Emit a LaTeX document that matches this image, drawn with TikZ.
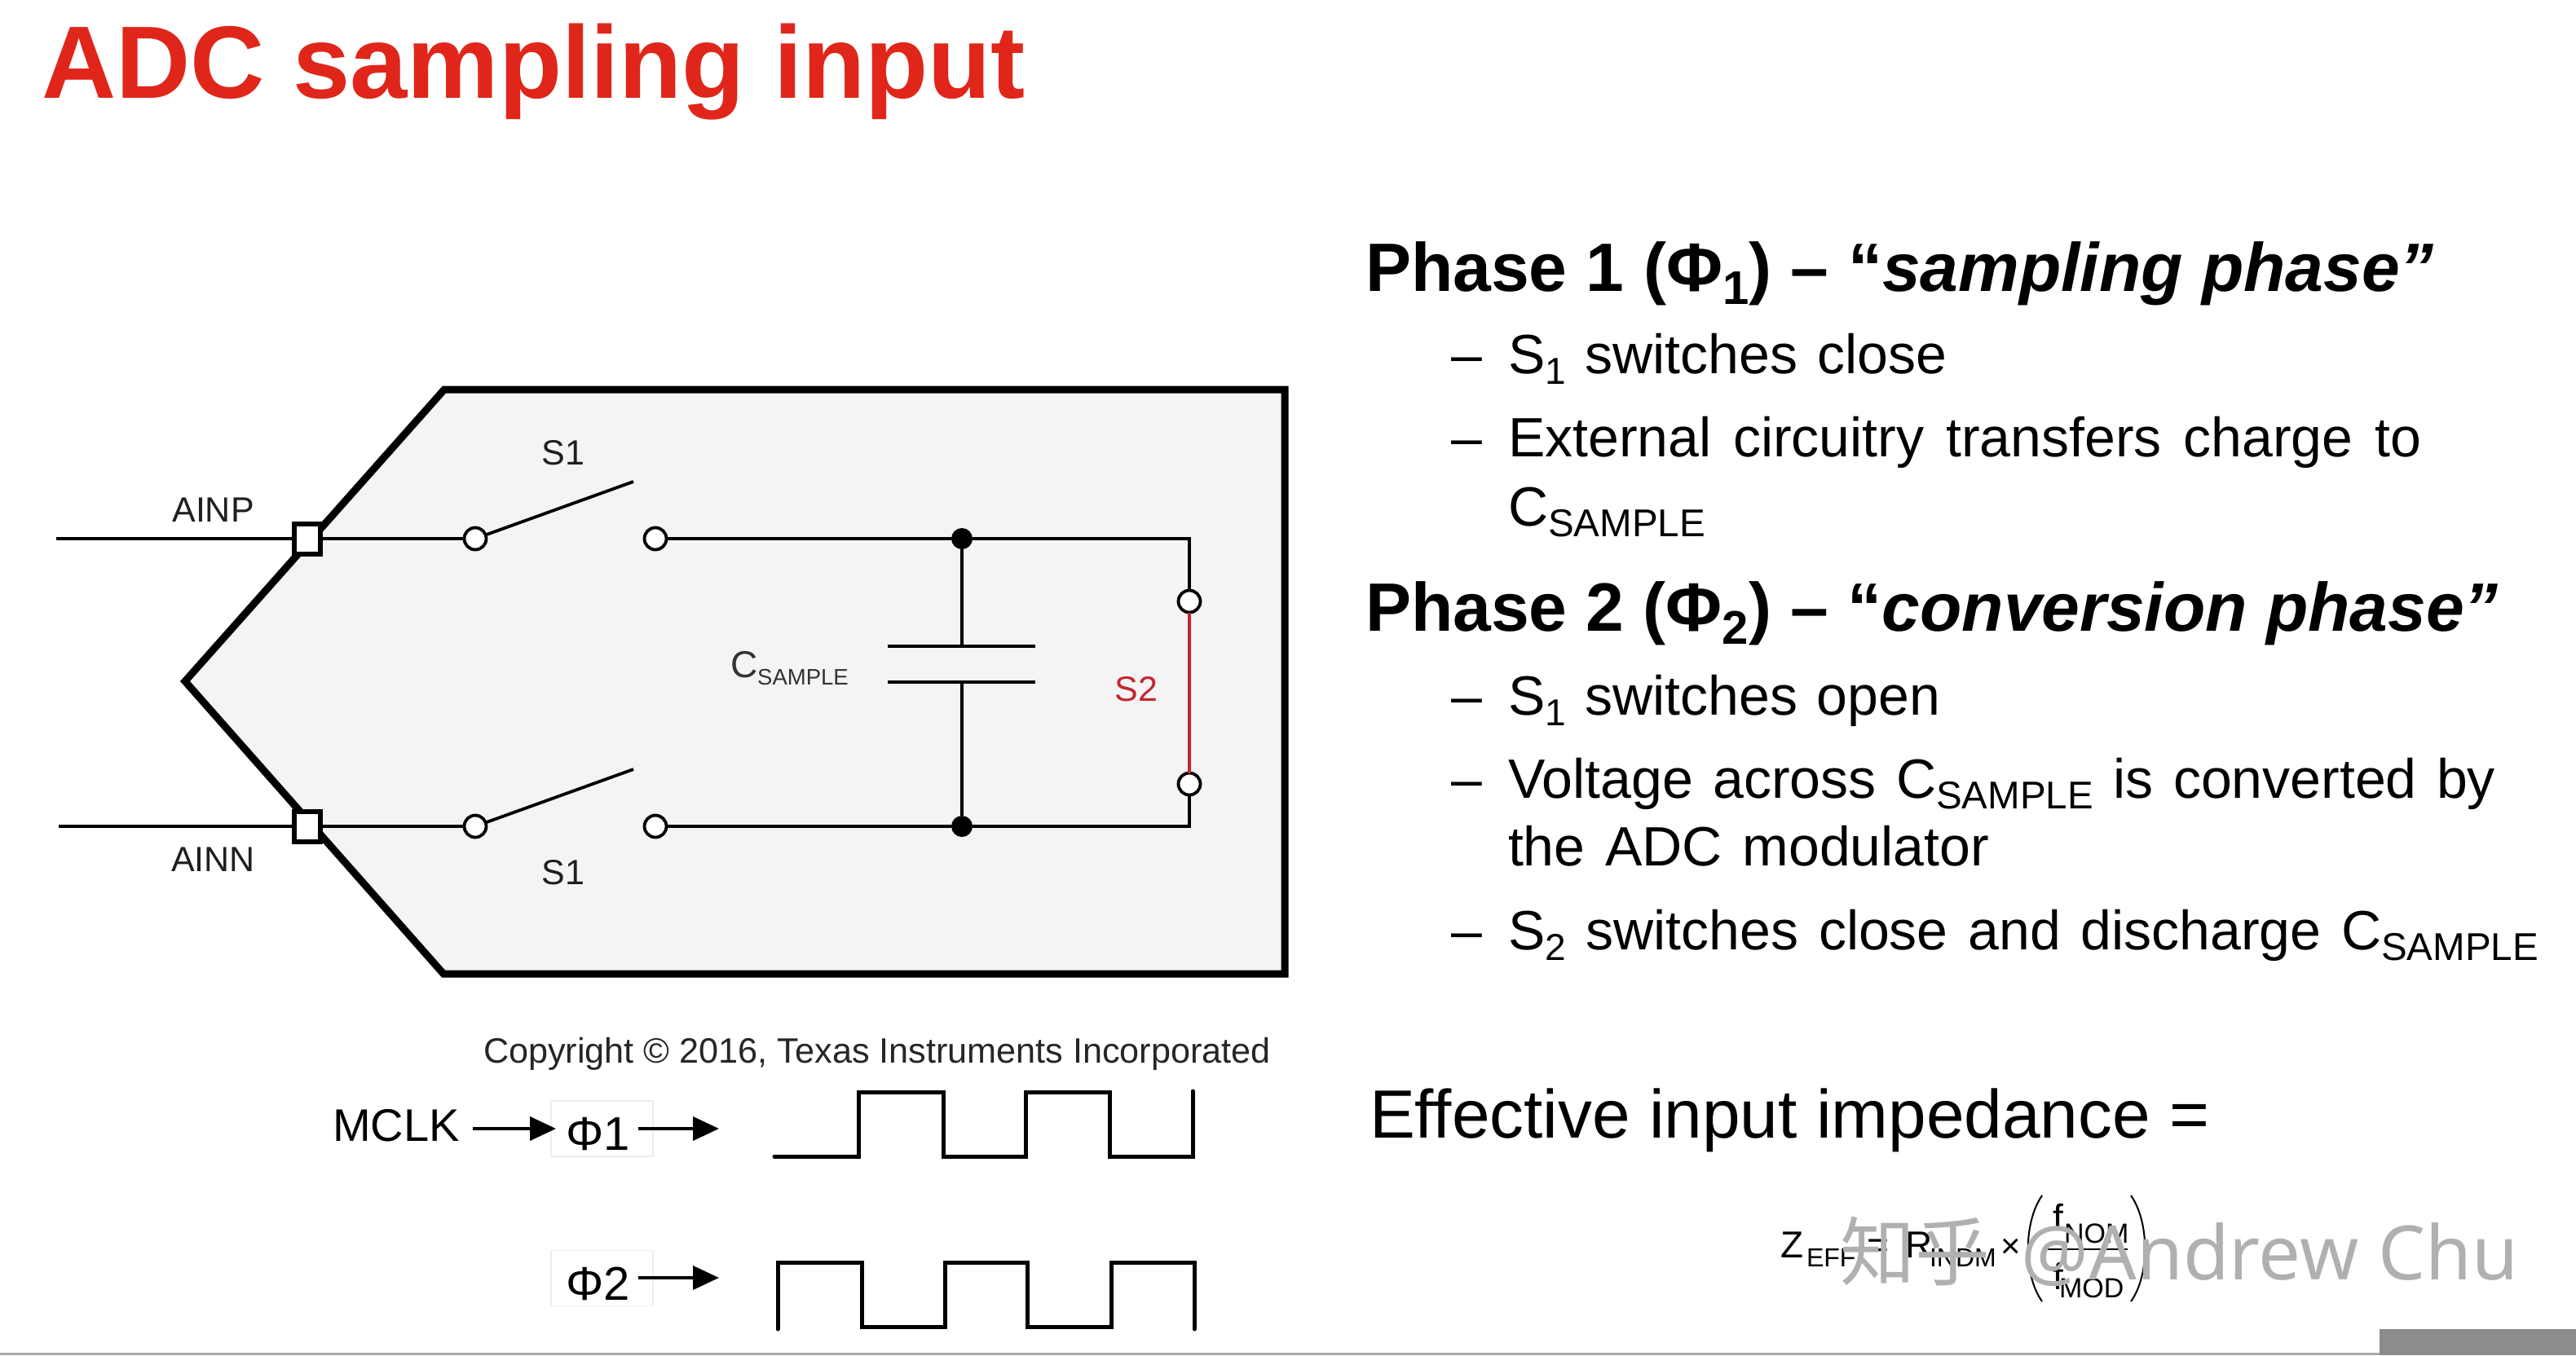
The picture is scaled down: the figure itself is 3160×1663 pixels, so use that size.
\documentclass[tikz,border=0pt]{standalone}
\usepackage{fontspec}
\setmainfont{Liberation Sans}
\newfontfamily\cjkwm{Noto Sans CJK SC}
\newfontfamily\wmlat{Noto Sans}
\usetikzlibrary{arrows.meta}
\definecolor{titlered}{HTML}{E0261A}
\definecolor{sred}{HTML}{C4262E}
\definecolor{hexfill}{HTML}{F4F4F4}
\newcommand\fs[1]{\fontsize{#1}{#1}\selectfont}
\newcommand\lowr[2]{\raisebox{-.2em}{\fs{#1}#2}}
\tikzset{
  txt/.style={inner sep=0pt,outer sep=0pt,anchor=base west,text=black},
  ctr/.style={inner sep=0pt,outer sep=0pt,anchor=base,text=black!88},
  wire/.style={line width=3.8pt,draw=black},
  pin/.style={draw=black,line width=6pt,fill=white,minimum width=32pt,minimum height=37pt,inner sep=0pt,outer sep=0pt,rectangle},
  term/.style={circle,draw=black,line width=3.8pt,fill=white,minimum size=27pt,inner sep=0pt,outer sep=0pt},
  jdot/.style={circle,fill=black,minimum size=26pt,inner sep=0pt,outer sep=0pt},
  clkarrow/.style={line width=4pt,-{Triangle[length=32pt,width=29pt]}},
  wave/.style={line width=5pt,line join=miter,line cap=round},
  phibox/.style={draw=black!7,line width=1.5pt,fill=white,minimum width=125pt,minimum height=68pt,inner sep=0pt,outer sep=0pt},
  body/.style={txt,font=\fs{68}},
  head/.style={txt,font=\fs{84}\bfseries},
  parenline/.style={line width=2pt,draw=black}
}
\begin{document}
\begin{tikzpicture}[x=1pt,y=-1pt]
\useasboundingbox (0,0) rectangle (3160,1663);
\fill[white] (0,0) rectangle (3160,1663);
% title
\node[txt,font=\fs{126.3}\bfseries,text=titlered] (title) at (51,120) {ADC sampling input};
% chip outline
\draw[line width=9pt,fill=hexfill,line join=miter] (545,478) -- (1576,478) -- (1576,1195) -- (544,1195) -- (227,836) -- cycle;
% nodes
\node[pin] (ainp) at (377,661) {};
\node[pin] (ainn) at (377,1014) {};
\coordinate (ainpin) at (69,661);
\coordinate (ainnin) at (72,1014);
\node[term] (s1a) at (583,661) {};
\node[term] (s1b) at (804,661) {};
\node[term] (s1c) at (583,1014) {};
\node[term] (s1d) at (804,1014) {};
\coordinate (arm1) at (777,591);
\coordinate (arm2) at (777,944);
\node[jdot] (jt) at (1180,661) {};
\node[jdot] (jb) at (1180,1014) {};
\node[term] (s2t) at (1459,738) {};
\node[term] (s2b) at (1459,962) {};
\coordinate (cornt) at (1459,661);
\coordinate (cornb) at (1459,1014);
\coordinate (pl1l) at (1089,793);
\coordinate (pl1r) at (1270,793);
\coordinate (pl2l) at (1089,837);
\coordinate (pl2r) at (1270,837);
\coordinate (pl1m) at (1180,793);
\coordinate (pl2m) at (1180,837);
% wires
\draw[wire] (ainpin) -- (ainp);
\draw[wire] (ainnin) -- (ainn);
\draw[wire] (ainp) -- (s1a);
\draw[wire] (ainn) -- (s1c);
\draw[wire] (s1a) -- (arm1);
\draw[wire] (s1c) -- (arm2);
\draw[wire] (s1b) -- (jt);
\draw[wire] (s1d) -- (jb);
\draw[wire] (jt) -- (cornt) -- (s2t);
\draw[wire] (jb) -- (cornb) -- (s2b);
\draw[wire] (jt) -- (pl1m);
\draw[wire] (jb) -- (pl2m);
\draw[wire] (pl1l) -- (pl1r);
\draw[wire] (pl2l) -- (pl2r);
\draw[line width=3.8pt,draw=sred] (s2t) -- (s2b);
% circuit labels
\node[ctr,font=\fs{43}] (lainp) at (261.5,640) {AINP};
\node[ctr,font=\fs{43}] (lainn) at (261.5,1069) {AINN};
\node[ctr,font=\fs{43}] (ls1t) at (691,570) {S1};
\node[ctr,font=\fs{43}] (ls1b) at (691,1085) {S1};
\node[txt,font=\fs{46},text=black!80] (lcs) at (896,831) {C\lowr{27.5}{SAMPLE}};
\node[ctr,font=\fs{43},text=sred] (ls2) at (1394,860) {S2};
% clock
\node[txt,font=\fs{43.2},text=black!85] (copy) at (593,1304) {Copyright © 2016, Texas Instruments Incorporated};
\node[txt,font=\fs{56}] (mclk) at (408,1400) {MCLK};
\node[phibox] (phi1box) at (738.5,1385) {};
\node[phibox] (phi2box) at (738.5,1568.5) {};
\node[txt,font=\fs{58}] (phi1) at (694,1411) {Φ1};
\node[txt,font=\fs{58}] (phi2) at (694,1595) {Φ2};
\coordinate (mclkr) at (580,1385);
\coordinate (phi1in) at (682,1385);
\coordinate (phi1o) at (783,1385);
\coordinate (w1) at (882,1385);
\coordinate (phi2o) at (783,1568);
\coordinate (w2) at (882,1568);
\draw[clkarrow] (mclkr) -- (phi1in);
\draw[clkarrow] (phi1o) -- (w1);
\draw[clkarrow] (phi2o) -- (w2);
\draw[wave] (950,1419) -- (1053,1419) -- (1053,1340) -- (1157,1340) -- (1157,1419) -- (1258,1419) -- (1258,1340) -- (1361,1340) -- (1361,1419) -- (1463,1419) -- (1463,1339);
\draw[wave] (954,1631) -- (954,1549) -- (1057,1549) -- (1057,1628) -- (1159,1628) -- (1159,1549) -- (1260,1549) -- (1260,1628) -- (1363,1628) -- (1363,1549) -- (1465,1549) -- (1465,1631);
% right text
\node[head] (p1) at (1675,357) {\makebox[1311pt][s]{Phase 1 (Φ\lowr{58}{1}) – “\textit{sampling phase”}}};
\node[body] (d1) at (1780,458) {–};
\node[body] (t1) at (1850,458) {\makebox[538pt][s]{S\lowr{46}{1} switches close}};
\node[body] (d2) at (1780,560) {–};
\node[body] (t2) at (1850,560) {\makebox[1120pt][s]{External circuitry transfers charge to}};
\node[body] (t3) at (1850,645) {C\lowr{47.5}{SAMPLE}};
\node[head] (p2) at (1675,774) {\makebox[1390pt][s]{Phase 2 (Φ\lowr{58}{2}) – “\textit{conversion phase”}}};
\node[body] (d3) at (1780,877) {–};
\node[body] (t4) at (1850,877) {\makebox[530pt][s]{S\lowr{46}{1} switches open}};
\node[body] (d4) at (1780,979) {–};
\node[body] (t5) at (1850,979) {\makebox[1211pt][s]{Voltage across C\lowr{47.5}{SAMPLE} is converted by}};
\node[body] (t6) at (1850,1062) {\makebox[590pt][s]{the ADC modulator}};
\node[body] (d5) at (1780,1165) {–};
\node[body] (t7) at (1850,1165) {\makebox[1264pt][s]{S\lowr{46}{2} switches close and discharge C\lowr{47.5}{SAMPLE}}};
\node[txt,font=\fs{83.8}] (eff) at (1680,1396) {Effective input impedance =};
% formula
\node[txt,font=\fs{46}] (z) at (2184,1543) {Z};
\node[txt,font=\fs{32}] (zs) at (2216,1554) {EFF};
\node[txt,font=\fs{46}] (eq) at (2290,1543) {=};
\node[txt,font=\fs{46}] (r) at (2337,1543) {R};
\node[txt,font=\fs{32}] (rs) at (2367,1554) {INDM};
\node[txt,font=\fs{42}] (times) at (2454,1543) {×};
\node[txt,font=\fs{46}] (f1) at (2518,1510) {f};
\node[txt,font=\fs{34}] (f1s) at (2532,1525) {NOM};
\node[txt,font=\fs{46}] (f2) at (2518,1582) {f};
\node[txt,font=\fs{34}] (f2s) at (2526,1592) {MOD};
\draw[line width=2.4pt] (2509,1533) -- (2610,1533);
\draw[parenline] (2505,1467) .. controls (2482,1500) and (2482,1565) .. (2505,1597);
\draw[parenline] (2614,1467) .. controls (2637,1500) and (2637,1565) .. (2614,1597);
% watermark
\node[txt,text=black!31] (wm) at (2257,1570) {{\cjkwm\fs{92}知乎}\hspace{36pt} {\wmlat\fs{92}@Andrew Chu}};
% bottom strip
\fill[black!33] (0,1660) rectangle (3160,1663);
\fill[black!45] (2919,1631) rectangle (3160,1663);
\end{tikzpicture}
\end{document}
